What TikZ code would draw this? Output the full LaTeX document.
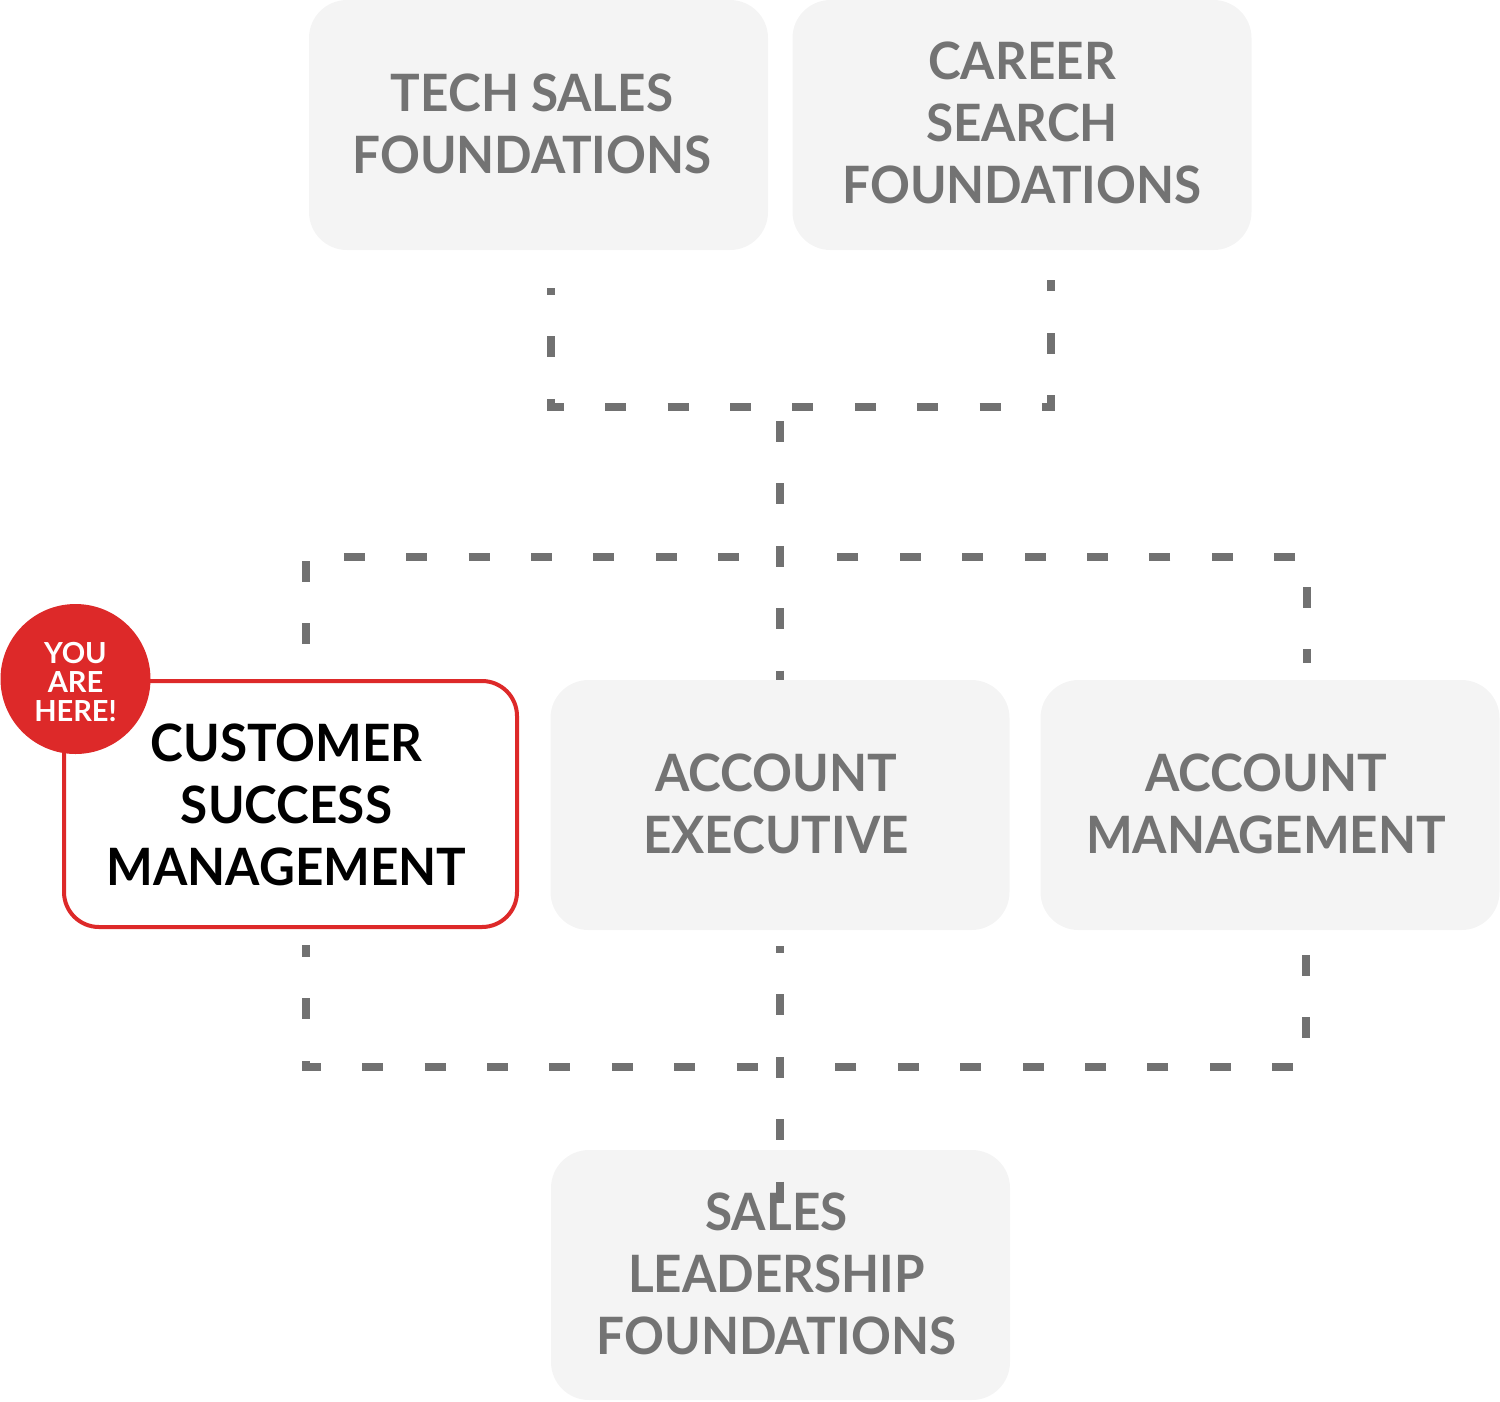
\documentclass[tikz,border=0pt]{standalone}
\usepackage{fontspec}
\setmainfont{Lato}
\newfontfamily\boxfont{Lato}[FakeStretch=0.96]
\definecolor{boxgray}{HTML}{F4F4F4}
\definecolor{txtgray}{HTML}{737373}
\definecolor{linegray}{HTML}{717171}
\definecolor{herered}{HTML}{DD2929}
\begin{document}
\begin{tikzpicture}[x=1pt,y=-1pt,
  box/.style={fill=boxgray, rounded corners=38pt, inner sep=0pt, draw=none,
              minimum width=459pt, minimum height=250pt},
  lbl/.style={font=\boxfont\fontsize{51.5}{62}\selectfont\bfseries, text=txtgray,
              align=center, inner sep=0pt},
  conn/.style={draw=linegray, line width=7.5pt, dash pattern=on 21pt off 41.4pt}]
\useasboundingbox (0,0) rectangle (1500,1401);
% boxes
\node[box] (tech) at (538.5,125) {};
\node[box] (career) at (1022,125) {};
\node[box] (ae) at (780,805) {};
\node[box] (am) at (1270,805) {};
\node[box] (sl) at (780.5,1275) {};
\node[draw=herered, line width=4pt, fill=white, rounded corners=35pt,
      minimum width=453pt, minimum height=246pt, inner sep=0pt] (csm) at (290.5,804) {};
% labels
\node[lbl] (techT) at (532,124) {TECH SALES\\FOUNDATIONS};
\node[lbl] (careerT) at (1022,123) {CAREER\\SEARCH\\FOUNDATIONS};
\node[lbl] (aeT) at (776,803.5) {ACCOUNT\\EXECUTIVE};
\node[lbl] (amT) at (1266,803.5) {ACCOUNT\\MANAGEMENT};
\node[lbl] (slT) at (776.5,1274) {SALES\\LEADERSHIP\\FOUNDATIONS};
\node[lbl, text=black] (csmT) at (286.5,804.5) {CUSTOMER\\SUCCESS\\MANAGEMENT};
% connectors
\coordinate (t1) at (551,288); \coordinate (t2) at (551,407);
\coordinate (t3) at (1051,407); \coordinate (t4) at (1051,280);
\draw[conn, dash phase=14pt] (t1) -- (t2) -- (t3) -- (t4);
\coordinate (m1) at (780,421); \coordinate (m2) at (780,680);
\draw[conn] (m1) -- (m2);
\coordinate (l1) at (306,644); \coordinate (l2) at (306,557); \coordinate (l3) at (760,557);
\draw[conn] (l1) -- (l2) -- (l3);
\coordinate (r1) at (1307,663); \coordinate (r2) at (1307,557); \coordinate (r3) at (800,557);
\draw[conn, dash phase=7pt] (r1) -- (r2) -- (r3);
\coordinate (bl1) at (306,945); \coordinate (bl2) at (306,1067); \coordinate (bl3) at (760,1067);
\draw[conn, dash phase=9pt] (bl1) -- (bl2) -- (bl3);
\coordinate (br1) at (1306,955); \coordinate (br2) at (1306,1067); \coordinate (br3) at (800,1067);
\draw[conn] (br1) -- (br2) -- (br3);
\coordinate (bm1) at (780,946); \coordinate (bm2) at (780,1203);
\draw[conn, dash phase=14pt] (bm1) -- (bm2);
% you are here badge
\node[circle, fill=herered, minimum size=150pt, inner sep=0pt] (here) at (75.5,679) {};
\node[font=\fontsize{29}{29}\selectfont\bfseries, text=white, align=center, inner sep=0pt]
  (hereT) at (75.5,681.5) {YOU\\ARE\\HERE!};
\end{tikzpicture}
\end{document}
